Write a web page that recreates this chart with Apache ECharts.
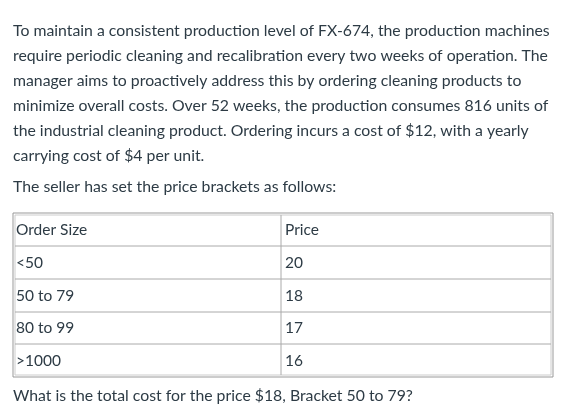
<!DOCTYPE html>
<html><head><meta charset="utf-8">
<script src="https://cdn.jsdelivr.net/npm/echarts@6/dist/echarts.min.js"></script>
<style>html,body{margin:0;padding:0;background:#fff}#c{width:566px;height:418px}</style>
</head><body><div id="c"></div>
<script>
const paragraphLines = [
 "To maintain a consistent production level of FX-674, the production machines",
 "require periodic cleaning and recalibration every two weeks of operation. The",
 "manager aims to proactively address this by ordering cleaning products to",
 "minimize overall costs. Over 52 weeks, the production consumes 816 units of",
 "the industrial cleaning product. Ordering incurs a cost of $12, with a yearly",
 "carrying cost of $4 per unit."
];
const introLine = "The seller has set the price brackets as follows:";
const headers = ["Order Size", "Price"];
const orderSizes = ["<50", "50 to 79", "80 to 99", ">1000"];
const prices = ["20", "18", "17", "16"];
const question = "What is the total cost for the price $18, Bracket 50 to 79?";

const chart = echarts.init(document.getElementById('c'));
const font = '15.8px Lato';
const col = '#2d3b45';
const els = [];
paragraphLines.forEach((t, i) => els.push({type:'text', left:13, top: 23 + i*25, style:{text:t, font, fill:col}}));
els.push({type:'text', left:13, top:179, style:{text:introLine, font, fill:col}});
const rowY = [213, 246, 279, 312, 344, 377];
const x0 = 13, x1 = 553, xm = 281;
els.push({type:'rect', shape:{x:x0, y:rowY[0], width:x1-x0, height:rowY[5]-rowY[0]}, style:{fill:'none', stroke:'#999', lineWidth:1}});
els.push({type:'rect', shape:{x:x0+2, y:rowY[0]+2, width:x1-x0-4, height:rowY[5]-rowY[0]-4}, style:{fill:'none', stroke:'#ccc', lineWidth:1}});
for (let i = 1; i < 5; i++) els.push({type:'line', shape:{x1:x0+2, y1:rowY[i], x2:x1-2, y2:rowY[i]}, style:{stroke:'#aaa', lineWidth:1}});
els.push({type:'line', shape:{x1:xm, y1:rowY[0]+2, x2:xm, y2:rowY[5]-2}, style:{stroke:'#aaa', lineWidth:1}});
const rows = [headers].concat(orderSizes.map((s, i) => [s, prices[i]]));
rows.forEach((r, i) => {
  const cy = (rowY[i] + rowY[i+1]) / 2;
  els.push({type:'text', x:16, y:cy, style:{text:r[0], font:'15.5px Lato', fill:col, textVerticalAlign:'middle'}});
  els.push({type:'text', x:285, y:cy, style:{text:r[1], font:'15.5px Lato', fill:col, textVerticalAlign:'middle'}});
});
els.push({type:'text', left:13, top:388, style:{text:question, font, fill:col}});
chart.setOption({animation:false, graphic:{elements:els}});
</script></body></html>
